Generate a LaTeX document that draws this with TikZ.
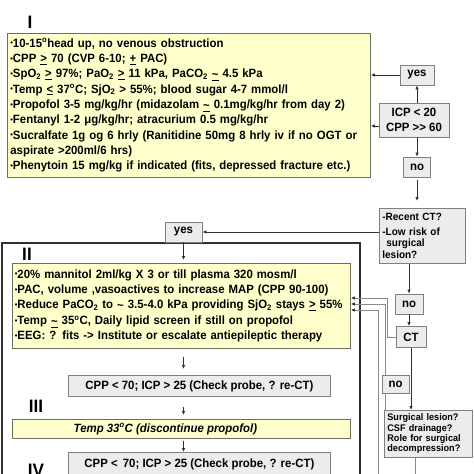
\documentclass[tikz,border=0pt]{standalone}
\usepackage{fontspec}
\usepackage{graphicx}
\setmainfont{Liberation Sans}[FakeStretch=0.95]
\usetikzlibrary{arrows.meta}
\definecolor{yfill}{HTML}{FFFFCC}
\definecolor{ydraw}{HTML}{6E6E60}
\definecolor{gfill}{HTML}{ECECEC}
\definecolor{gdraw}{HTML}{808080}
\definecolor{lgray}{HTML}{8A8A8A}
\definecolor{dk}{HTML}{303030}
\newcommand{\bul}{\raisebox{0.2ex}{\scalebox{0.65}{•}}}
\newcommand{\ul}[1]{\underline{#1}}
\newcommand{\sub}[1]{\textsubscript{#1}}
\newcommand{\tl}{\raisebox{-0.15ex}{\textasciitilde}}
\tikzset{
  ybox/.style={draw=ydraw, fill=yfill, line width=0.8pt, inner sep=0pt, font=\bfseries},
  gbox/.style={draw=gdraw, fill=gfill, line width=0.8pt, inner sep=0pt, font=\bfseries\fontsize{12}{14}\selectfont},
  stagelbl/.style={font=\bfseries\fontsize{18}{18}\selectfont, inner sep=0pt},
  arr/.style={draw=dk, line width=0.8pt, -{Latex[length=4pt,width=3.5pt]}},
  garr/.style={draw=lgray, line width=0.9pt, -{Latex[length=4pt,width=3.5pt,color=dk]}},
  gline/.style={draw=lgray, line width=0.9pt},
  frame/.style={draw=dk, line width=1.8pt}
}
\begin{document}
\begin{tikzpicture}[x=1pt,y=-1pt]
\useasboundingbox (0,0) rectangle (474,474);
\clip (0,0) rectangle (474,474);
\fill[white] (0,0) rectangle (474,474);

% Stage I
\node[stagelbl] (lI) at (30,22) {I};
\node[ybox, anchor=north west, minimum width=363pt, minimum height=144pt,
      text width=357pt, align=left, inner xsep=3pt,
      font=\bfseries\fontsize{12}{15.3}\selectfont] (b1) at (7,33) {%
\begin{tabular}{@{}l@{}}
\bul10-15\textsuperscript{o}head up, no venous obstruction\\
\bul CPP \ul{>} 70 (CVP 6-10; \ul{+} PAC)\\
\bul SpO\sub{2} \ul{>} 97\%; PaO\sub{2} \ul{>} 11 kPa, PaCO\sub{2} \ul{\tl} 4.5 kPa\\
\bul Temp \ul{<} 37\textsuperscript{o}C; SjO\sub{2} > 55\%; blood sugar 4-7 mmol/l\\
\bul Propofol 3-5 mg/kg/hr (midazolam \ul{\tl} 0.1mg/kg/hr from day 2)\\
\bul Fentanyl 1-2 μg/kg/hr; atracurium 0.5 mg/kg/hr\\
\bul Sucralfate 1g og 6 hrly (Ranitidine 50mg 8 hrly iv if no OGT or\\
aspirate >200ml/6 hrs)\\
\bul Phenytoin 15 mg/kg if indicated (fits, depressed fracture etc.)
\end{tabular}};

\node[gbox, minimum width=34pt, minimum height=20pt] (yes1) at (417,75) {yes};
\node[gbox, minimum width=70pt, minimum height=34pt, align=center,
      font=\bfseries\fontsize{12}{14.5}\selectfont] (icp) at (414,120) {ICP < 20\\CPP >{}> 60};
\node[gbox, minimum width=27pt, minimum height=20pt] (no1) at (417,167) {no};
\node[gbox, anchor=north west, minimum width=85pt, minimum height=55pt,
      text width=80pt, align=left, inner xsep=3pt,
      font=\bfseries\fontsize{10.5}{11.6}\selectfont] (rct) at (379,208) {%
-Recent CT?\\[3pt]
-Low risk of\\
\hspace*{4pt}surgical\\
lesion?};

\draw[arr] (icp.north -| yes1) -- (yes1.south);
\draw[arr] (yes1.west) -- (yes1.west -| b1.east);
\draw[arr] ([yshift=-6pt]icp.west) -- ([yshift=-6pt]icp.west -| b1.east);
\draw[arr] (icp.south -| no1) -- (no1.north);
\draw[arr, shorten <=3pt, shorten >=7pt] (no1.south) -- (no1.south |- rct.north);

% Stage II frame
\coordinate (fbl) at (2,480);
\coordinate (fbr) at (360,480);
\draw[frame] (fbl) -- (2,243) -- (360,243) -- (fbr);

\node[gbox, minimum width=37pt, minimum height=20pt] (yes2) at (183.5,232) {yes};
\draw[arr] (rct.west |- yes2) -- (yes2.east);

\node[stagelbl] (lII) at (27,254) {II};
\node[ybox, anchor=north west, minimum width=338pt, minimum height=85pt,
      text width=333pt, align=left, inner xsep=2.5pt,
      font=\bfseries\fontsize{12}{15.4}\selectfont] (b2) at (12,263) {%
\begin{tabular}{@{}l@{}}
\bul20\% mannitol 2ml/kg X 3 or till plasma 320 mosm/l\\
\bul PAC, volume ,vasoactives to increase MAP (CPP 90-100)\\
\bul Reduce PaCO\sub{2} to \tl{} 3.5-4.0 kPa providing SjO\sub{2} stays \ul{>} 55\%\\
\bul Temp \ul{\tl} 35\textsuperscript{o}C, Daily lipid screen if still on propofol\\
\bul EEG: ? fits -> Institute or escalate antiepileptic therapy
\end{tabular}};
\draw[arr, shorten >=3pt] (yes2.south) -- (yes2.south |- b2.north);

% right-hand loop
\node[gbox, minimum width=28pt, minimum height=20pt] (no3) at (409,304) {no};
\node[gbox, minimum width=30pt, minimum height=21pt] (ct) at (411,337) {CT};
\node[gbox, minimum width=27pt, minimum height=18pt] (no2) at (395.5,384) {no};
\node[gbox, anchor=north west, minimum width=86pt, minimum height=47pt,
      text width=82pt, align=left, inner xsep=3pt,
      font=\bfseries\fontsize{9.6}{10.3}\selectfont] (surg) at (384,410) {%
Surgical lesion?\\
CSF drainage?\\
Role for surgical\\
decompression?};

\draw[arr] (rct.south -| no3) -- (no3.north);
\draw[arr] (no3.south) -- (no3.south |- ct.north);
\draw[arr] (ct.south) -- (ct.south |- surg.north);

\coordinate (v1) at (387,298);
\coordinate (v2) at (385,304);
\coordinate (v3) at (378,310);
\coordinate (bot3) at (378,480);
\coordinate (bot4) at (415,480);
\draw[garr] (ct.west) -| (v1) -- (b2.east |- v1);
\draw[gline] (v2 |- surg.north) -- (v2 |- no2.south);
\draw[garr] (v2 |- no2.north) -- (v2) -- (b2.east |- v2);
\draw[garr] (bot3) -- (v3) -- (b2.east |- v3);
\draw[gline] (surg.south -| bot4) -- (bot4);

% Stage III
\node[gbox, anchor=north west, minimum width=262pt, minimum height=21pt,
      font=\bfseries\fontsize{12}{14}\selectfont] (cpp1) at (68,375) {CPP < 70; ICP > 25 (Check probe, ? re-CT)};
\node[stagelbl] (lIII) at (36,406) {III};
\node[ybox, anchor=north west, minimum width=338pt, minimum height=19pt,
      font=\bfseries\itshape\fontsize{12}{14}\selectfont] (temp) at (12,419) {Temp 33\textsuperscript{o}C (discontinue propofol)\hspace*{32pt}};
\node[gbox, anchor=north west, minimum width=262pt, minimum height=24pt,
      font=\bfseries\fontsize{12}{14}\selectfont] (cpp2) at (68,452) {CPP <\, 70; ICP > 25 (Check probe, ? re-CT)};
\node[stagelbl] (lIV) at (36,470) {IV};

\draw[arr, shorten <=8pt, shorten >=6pt] (b2.south -| yes2) -- (cpp1.north -| yes2);
\draw[arr, shorten <=10pt, shorten >=4pt] (cpp1.south -| yes2) -- (temp.north -| yes2);
\draw[arr, shorten <=2pt] (temp.south -| yes2) -- (cpp2.north -| yes2);
\end{tikzpicture}
\end{document}
